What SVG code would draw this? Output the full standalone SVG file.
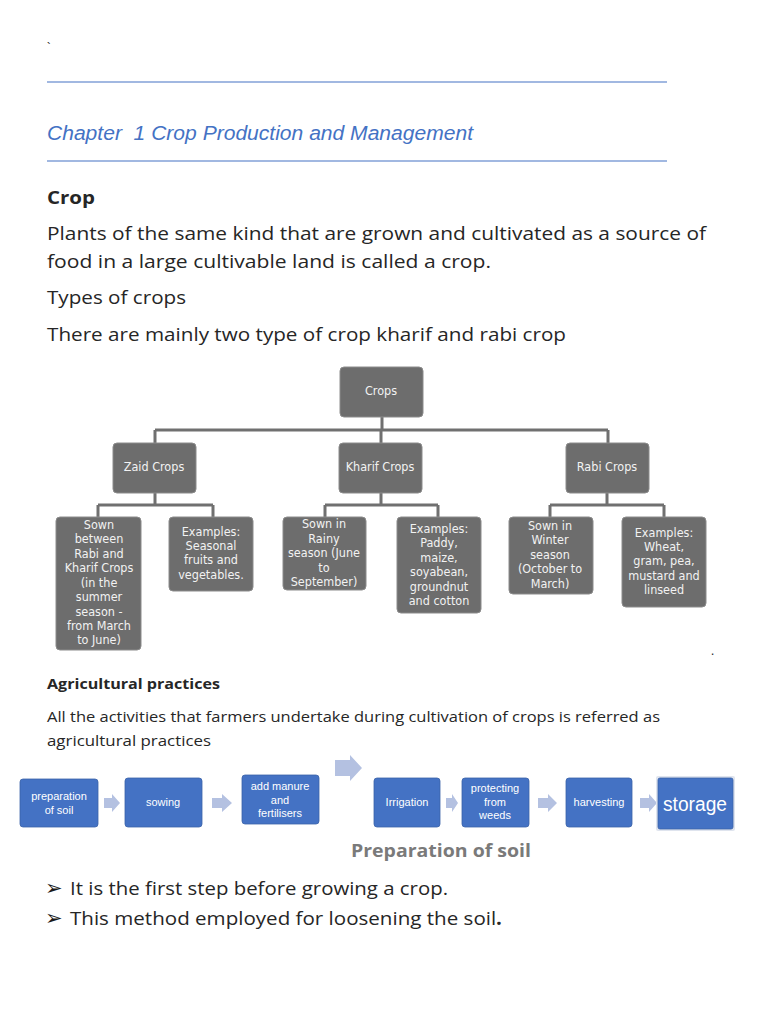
<svg xmlns="http://www.w3.org/2000/svg" width="768" height="1024" viewBox="0 0 768 1024">
<style>
.body{font-family:"Open Sans","Noto Sans",sans-serif;fill:#262626}
.head{font-family:"Liberation Sans","DejaVu Sans",sans-serif;font-style:italic;fill:#4472c4;font-size:20px;white-space:pre}
.rule{stroke:#4472c4;stroke-width:1.2}
.gbox{fill:#6d6d6d;stroke:#8c8c8c;stroke-width:1}
.gt{font-family:"Liberation Sans Narrow","DejaVu Sans Condensed","Liberation Sans",sans-serif;font-stretch:condensed;font-size:12.5px;fill:#f2f2f2;text-anchor:middle}
.conn{stroke:#707070;stroke-width:3;fill:none}
.bbox{fill:#4472c4;stroke:#3a62a8;stroke-width:0.8}
.bt{font-family:"Liberation Sans","DejaVu Sans",sans-serif;font-size:11px;fill:#ffffff;text-anchor:middle}
.arr{fill:#b4c1e1}
.bul{font-family:"DejaVu Sans",sans-serif;font-size:21px;fill:#1a1a1a}
</style>
<rect width="768" height="1024" fill="#ffffff"/>
<text x="47" y="52" class="body" font-size="12">`</text>
<line x1="47" y1="82" x2="667" y2="82" class="rule"/>
<text x="47" y="140" class="head" xml:space="preserve" textLength="426" lengthAdjust="spacingAndGlyphs">Chapter  1 Crop Production and Management</text>
<line x1="47" y1="161" x2="667" y2="161" class="rule"/>
<text x="47" y="204" class="body" font-size="18" font-weight="bold" textLength="48" lengthAdjust="spacingAndGlyphs">Crop</text>
<text x="47" y="240" class="body" font-size="19" textLength="659" lengthAdjust="spacingAndGlyphs">Plants of the same kind that are grown and cultivated as a source of</text>
<text x="47" y="268" class="body" font-size="19" textLength="444" lengthAdjust="spacingAndGlyphs">food in a large cultivable land is called a crop.</text>
<text x="47" y="304" class="body" font-size="19" textLength="139" lengthAdjust="spacingAndGlyphs">Types of crops</text>
<text x="47" y="341" class="body" font-size="19" textLength="519" lengthAdjust="spacingAndGlyphs">There are mainly two type of crop kharif and rabi crop</text>

<g id="connectors-tree">
<path class="conn" d="M382 417 V430 M155 430 H608 M155 430 V443 M381 430 V443 M608 430 V443"/>
<path class="conn" d="M155 493 V505 M98 505 H213 M98 505 V517 M213 505 V517"/>
<path class="conn" d="M381 493 V505 M325 505 H438 M325 505 V517 M438 505 V517"/>
<path class="conn" d="M607 493 V505 M550 505 H664 M550 505 V517 M664 505 V517"/>
</g>
<g id="crops"><rect class="gbox" x="340" y="367" width="83" height="50" rx="4"/><text class="gt" x="381" y="395">Crops</text></g>
<g id="zaid"><rect class="gbox" x="113" y="443" width="83" height="50" rx="4"/><text class="gt" x="154" y="471">Zaid Crops</text></g>
<g id="kharif"><rect class="gbox" x="339" y="443" width="83" height="50" rx="4"/><text class="gt" x="380" y="471">Kharif Crops</text></g>
<g id="rabi"><rect class="gbox" x="566" y="443" width="83" height="50" rx="4"/><text class="gt" x="607" y="471">Rabi Crops</text></g>
<g id="zaid-sown"><rect class="gbox" x="56" y="517" width="85" height="133" rx="4"/>
<text class="gt" x="99" y="529">Sown</text><text class="gt" x="99" y="543">between</text><text class="gt" x="99" y="558">Rabi and</text><text class="gt" x="99" y="572">Kharif Crops</text><text class="gt" x="99" y="587">(in the</text><text class="gt" x="99" y="601">summer</text><text class="gt" x="99" y="616">season -</text><text class="gt" x="99" y="630">from March</text><text class="gt" x="99" y="644">to June)</text></g>
<g id="zaid-ex"><rect class="gbox" x="169" y="517" width="84" height="74" rx="4"/>
<text class="gt" x="211" y="536">Examples:</text><text class="gt" x="211" y="550">Seasonal</text><text class="gt" x="211" y="564">fruits and</text><text class="gt" x="211" y="579">vegetables.</text></g>
<g id="kharif-sown"><rect class="gbox" x="283" y="517" width="83" height="73" rx="4"/>
<text class="gt" x="324" y="528">Sown in</text><text class="gt" x="324" y="543">Rainy</text><text class="gt" x="324" y="557">season (June</text><text class="gt" x="324" y="572">to</text><text class="gt" x="324" y="586">September)</text></g>
<g id="kharif-ex"><rect class="gbox" x="397" y="517" width="84" height="96" rx="4"/>
<text class="gt" x="439" y="533">Examples:</text><text class="gt" x="439" y="547">Paddy,</text><text class="gt" x="439" y="562">maize,</text><text class="gt" x="439" y="576">soyabean,</text><text class="gt" x="439" y="591">groundnut</text><text class="gt" x="439" y="605">and cotton</text></g>
<g id="rabi-sown"><rect class="gbox" x="509" y="517" width="84" height="77" rx="4"/>
<text class="gt" x="550" y="530">Sown in</text><text class="gt" x="550" y="544">Winter</text><text class="gt" x="550" y="559">season</text><text class="gt" x="550" y="573">(October to</text><text class="gt" x="550" y="588">March)</text></g>
<g id="rabi-ex"><rect class="gbox" x="622" y="517" width="84" height="90" rx="4"/>
<text class="gt" x="664" y="537">Examples:</text><text class="gt" x="664" y="551">Wheat,</text><text class="gt" x="664" y="565">gram, pea,</text><text class="gt" x="664" y="580">mustard and</text><text class="gt" x="664" y="594">linseed</text></g>
<text x="711" y="655" class="body" font-size="12">.</text>

<text x="47" y="689" class="body" font-size="14" font-weight="bold" textLength="173" lengthAdjust="spacingAndGlyphs">Agricultural practices</text>
<text x="47" y="722" class="body" font-size="15" textLength="613" lengthAdjust="spacingAndGlyphs">All the activities that farmers undertake during cultivation of crops is referred as</text>
<text x="47" y="746" class="body" font-size="15" textLength="164" lengthAdjust="spacingAndGlyphs">agricultural practices</text>

<g id="connectors-flow">
<path class="arr" d="M104 798 H112 V794 L120 803 L112 812 V808 H104 Z"/>
<path class="arr" d="M212 798 H222 V794 L232 803 L222 812 V808 H212 Z"/>
<path class="arr" d="M335 760 H350 V755 L362 768 L350 781 V776 H335 Z"/>
<path class="arr" d="M446 798 H452 V794 L458 803 L452 812 V808 H446 Z"/>
<path class="arr" d="M538 798 H548 V794 L557 803 L548 812 V808 H538 Z"/>
<path class="arr" d="M640 798 H649 V794 L657 803 L649 812 V808 H640 Z"/>
</g>
<g id="prep"><rect class="bbox" x="20" y="779" width="78" height="48" rx="3"/><text class="bt" x="59" y="800">preparation</text><text class="bt" x="59" y="814">of soil</text></g>
<g id="sowing"><rect class="bbox" x="125" y="778" width="77" height="49" rx="3"/><text class="bt" x="163" y="806">sowing</text></g>
<g id="manure"><rect class="bbox" x="242" y="775" width="77" height="49" rx="3"/><text class="bt" x="280" y="790">add manure</text><text class="bt" x="280" y="804">and</text><text class="bt" x="280" y="817">fertilisers</text></g>
<g id="irrigation"><rect class="bbox" x="374" y="778" width="66" height="49" rx="3"/><text class="bt" x="407" y="806">Irrigation</text></g>
<g id="protect"><rect class="bbox" x="462" y="778" width="67" height="49" rx="3"/><text class="bt" x="495" y="792">protecting</text><text class="bt" x="495" y="806">from</text><text class="bt" x="495" y="819">weeds</text></g>
<g id="harvest"><rect class="bbox" x="566" y="778" width="66" height="49" rx="3"/><text class="bt" x="599" y="806">harvesting</text></g>
<g id="storage"><rect x="656" y="776" width="79" height="55" rx="2" fill="#dfe4ee"/><rect class="bbox" x="658" y="778" width="75" height="51" rx="2"/><text class="bt" x="695" y="811" style="font-size:20px" textLength="64" lengthAdjust="spacingAndGlyphs">storage</text></g>

<text x="441" y="857" font-family="'Open Sans','Noto Sans',sans-serif" font-size="18" font-weight="bold" fill="#7a7a7a" text-anchor="middle" textLength="180" lengthAdjust="spacingAndGlyphs">Preparation of soil</text>

<text x="45" y="895" class="bul">➢</text>
<text x="70" y="895" class="body" font-size="19" textLength="378" lengthAdjust="spacingAndGlyphs">It is the first step before growing a crop.</text>
<text x="45" y="925" class="bul">➢</text>
<text x="70" y="925" class="body" font-size="19" textLength="432" lengthAdjust="spacingAndGlyphs">This method employed for loosening the soil<tspan font-weight="bold">.</tspan></text>
</svg>
